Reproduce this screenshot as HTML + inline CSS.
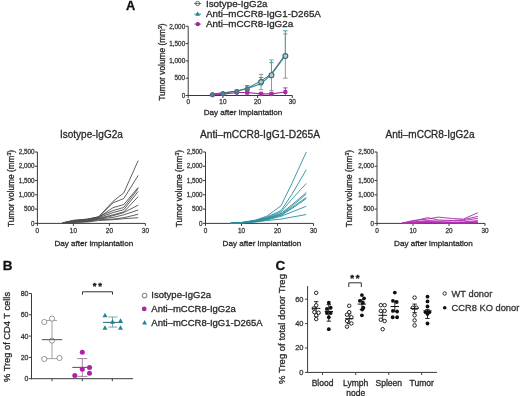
<!DOCTYPE html>
<html><head><meta charset="utf-8"><style>
html,body{margin:0;padding:0;background:#fff;}
svg{display:block;font-family:"Liberation Sans", sans-serif;filter:blur(0.6px);}
text{stroke:currentColor;stroke-width:0.3px;}
</style></head><body>
<svg width="520" height="396" viewBox="0 0 520 396">
<rect width="520" height="396" fill="#fff"/>
<text x="125.90" y="10.00" font-size="12.8" text-anchor="start" fill="#111" color="#111" font-weight="bold">A</text>
<line x1="188.20" y1="26.30" x2="188.20" y2="96.00" stroke="#3a3a3a" stroke-width="1"/>
<line x1="187.70" y1="95.50" x2="292.30" y2="95.50" stroke="#3a3a3a" stroke-width="1"/>
<line x1="185.70" y1="95.50" x2="188.20" y2="95.50" stroke="#3a3a3a" stroke-width="1"/>
<text x="185.20" y="97.70" font-size="6.4" text-anchor="end" fill="#3c3c3c" color="#3c3c3c" font-weight="normal">0</text>
<line x1="185.70" y1="78.20" x2="188.20" y2="78.20" stroke="#3a3a3a" stroke-width="1"/>
<text x="185.20" y="80.40" font-size="6.4" text-anchor="end" fill="#3c3c3c" color="#3c3c3c" font-weight="normal">500</text>
<line x1="185.70" y1="60.90" x2="188.20" y2="60.90" stroke="#3a3a3a" stroke-width="1"/>
<text x="185.20" y="63.10" font-size="6.4" text-anchor="end" fill="#3c3c3c" color="#3c3c3c" font-weight="normal">1,000</text>
<line x1="185.70" y1="43.60" x2="188.20" y2="43.60" stroke="#3a3a3a" stroke-width="1"/>
<text x="185.20" y="45.80" font-size="6.4" text-anchor="end" fill="#3c3c3c" color="#3c3c3c" font-weight="normal">1,500</text>
<line x1="185.70" y1="26.30" x2="188.20" y2="26.30" stroke="#3a3a3a" stroke-width="1"/>
<text x="185.20" y="28.50" font-size="6.4" text-anchor="end" fill="#3c3c3c" color="#3c3c3c" font-weight="normal">2,000</text>
<line x1="188.20" y1="95.50" x2="188.20" y2="98.00" stroke="#3a3a3a" stroke-width="1"/>
<text x="188.20" y="103.60" font-size="6.4" text-anchor="middle" fill="#3c3c3c" color="#3c3c3c" font-weight="normal">0</text>
<line x1="222.90" y1="95.50" x2="222.90" y2="98.00" stroke="#3a3a3a" stroke-width="1"/>
<text x="222.90" y="103.60" font-size="6.4" text-anchor="middle" fill="#3c3c3c" color="#3c3c3c" font-weight="normal">10</text>
<line x1="257.60" y1="95.50" x2="257.60" y2="98.00" stroke="#3a3a3a" stroke-width="1"/>
<text x="257.60" y="103.60" font-size="6.4" text-anchor="middle" fill="#3c3c3c" color="#3c3c3c" font-weight="normal">20</text>
<line x1="292.30" y1="95.50" x2="292.30" y2="98.00" stroke="#3a3a3a" stroke-width="1"/>
<text x="292.30" y="103.60" font-size="6.4" text-anchor="middle" fill="#3c3c3c" color="#3c3c3c" font-weight="normal">30</text>
<text x="243.00" y="114.80" font-size="8.1" text-anchor="middle" fill="#2a2a2a" color="#2a2a2a" font-weight="normal">Day after implantation</text>
<text x="164.80" y="62.00" font-size="8.3" text-anchor="middle" fill="#2a2a2a" color="#2a2a2a" font-weight="normal" transform="rotate(-90 164.8 62.0)">Tumor volume (mm<tspan font-size="5.2" dy="-3">3</tspan><tspan dy="3">)</tspan></text>
<line x1="212.49" y1="94.19" x2="212.49" y2="94.53" stroke="#2592a0" stroke-width="0.9"/>
<line x1="210.29" y1="94.19" x2="214.69" y2="94.19" stroke="#2592a0" stroke-width="0.9"/>
<line x1="222.90" y1="92.56" x2="222.90" y2="93.25" stroke="#2592a0" stroke-width="0.9"/>
<line x1="220.70" y1="92.56" x2="225.10" y2="92.56" stroke="#2592a0" stroke-width="0.9"/>
<line x1="236.78" y1="89.79" x2="236.78" y2="91.17" stroke="#2592a0" stroke-width="0.9"/>
<line x1="234.58" y1="89.79" x2="238.98" y2="89.79" stroke="#2592a0" stroke-width="0.9"/>
<line x1="247.19" y1="85.47" x2="247.19" y2="88.58" stroke="#2592a0" stroke-width="0.9"/>
<line x1="244.99" y1="85.47" x2="249.39" y2="85.47" stroke="#2592a0" stroke-width="0.9"/>
<line x1="261.07" y1="77.51" x2="261.07" y2="83.74" stroke="#2592a0" stroke-width="0.9"/>
<line x1="258.87" y1="77.51" x2="263.27" y2="77.51" stroke="#2592a0" stroke-width="0.9"/>
<line x1="271.48" y1="62.63" x2="271.48" y2="74.39" stroke="#2592a0" stroke-width="0.9"/>
<line x1="269.28" y1="62.63" x2="273.68" y2="62.63" stroke="#2592a0" stroke-width="0.9"/>
<line x1="285.36" y1="30.80" x2="285.36" y2="55.71" stroke="#2592a0" stroke-width="0.9"/>
<line x1="283.16" y1="30.80" x2="287.56" y2="30.80" stroke="#2592a0" stroke-width="0.9"/>
<line x1="212.49" y1="94.46" x2="212.49" y2="95.15" stroke="#8a8a8a" stroke-width="0.9"/>
<line x1="210.29" y1="94.46" x2="214.69" y2="94.46" stroke="#8a8a8a" stroke-width="0.9"/>
<line x1="210.29" y1="95.15" x2="214.69" y2="95.15" stroke="#8a8a8a" stroke-width="0.9"/>
<line x1="222.90" y1="92.91" x2="222.90" y2="94.29" stroke="#8a8a8a" stroke-width="0.9"/>
<line x1="220.70" y1="92.91" x2="225.10" y2="92.91" stroke="#8a8a8a" stroke-width="0.9"/>
<line x1="220.70" y1="94.29" x2="225.10" y2="94.29" stroke="#8a8a8a" stroke-width="0.9"/>
<line x1="236.78" y1="90.83" x2="236.78" y2="92.91" stroke="#8a8a8a" stroke-width="0.9"/>
<line x1="234.58" y1="90.83" x2="238.98" y2="90.83" stroke="#8a8a8a" stroke-width="0.9"/>
<line x1="234.58" y1="92.91" x2="238.98" y2="92.91" stroke="#8a8a8a" stroke-width="0.9"/>
<line x1="247.19" y1="86.16" x2="247.19" y2="92.39" stroke="#8a8a8a" stroke-width="0.9"/>
<line x1="244.99" y1="86.16" x2="249.39" y2="86.16" stroke="#8a8a8a" stroke-width="0.9"/>
<line x1="244.99" y1="92.39" x2="249.39" y2="92.39" stroke="#8a8a8a" stroke-width="0.9"/>
<line x1="261.07" y1="74.39" x2="261.07" y2="89.62" stroke="#8a8a8a" stroke-width="0.9"/>
<line x1="258.87" y1="74.39" x2="263.27" y2="74.39" stroke="#8a8a8a" stroke-width="0.9"/>
<line x1="258.87" y1="89.62" x2="263.27" y2="89.62" stroke="#8a8a8a" stroke-width="0.9"/>
<line x1="271.48" y1="59.97" x2="271.48" y2="90.41" stroke="#8a8a8a" stroke-width="0.9"/>
<line x1="269.28" y1="59.97" x2="273.68" y2="59.97" stroke="#8a8a8a" stroke-width="0.9"/>
<line x1="269.28" y1="90.41" x2="273.68" y2="90.41" stroke="#8a8a8a" stroke-width="0.9"/>
<line x1="285.36" y1="33.91" x2="285.36" y2="78.20" stroke="#8a8a8a" stroke-width="0.9"/>
<line x1="283.16" y1="33.91" x2="287.56" y2="33.91" stroke="#8a8a8a" stroke-width="0.9"/>
<line x1="283.16" y1="78.20" x2="287.56" y2="78.20" stroke="#8a8a8a" stroke-width="0.9"/>
<line x1="212.49" y1="94.53" x2="212.49" y2="95.08" stroke="#a92aa5" stroke-width="0.9"/>
<line x1="210.29" y1="94.53" x2="214.69" y2="94.53" stroke="#a92aa5" stroke-width="0.9"/>
<line x1="210.29" y1="95.08" x2="214.69" y2="95.08" stroke="#a92aa5" stroke-width="0.9"/>
<line x1="222.90" y1="93.60" x2="222.90" y2="94.64" stroke="#a92aa5" stroke-width="0.9"/>
<line x1="220.70" y1="93.60" x2="225.10" y2="93.60" stroke="#a92aa5" stroke-width="0.9"/>
<line x1="220.70" y1="94.64" x2="225.10" y2="94.64" stroke="#a92aa5" stroke-width="0.9"/>
<line x1="236.78" y1="91.52" x2="236.78" y2="93.60" stroke="#a92aa5" stroke-width="0.9"/>
<line x1="234.58" y1="91.52" x2="238.98" y2="91.52" stroke="#a92aa5" stroke-width="0.9"/>
<line x1="234.58" y1="93.60" x2="238.98" y2="93.60" stroke="#a92aa5" stroke-width="0.9"/>
<line x1="247.19" y1="91.17" x2="247.19" y2="93.94" stroke="#a92aa5" stroke-width="0.9"/>
<line x1="244.99" y1="91.17" x2="249.39" y2="91.17" stroke="#a92aa5" stroke-width="0.9"/>
<line x1="244.99" y1="93.94" x2="249.39" y2="93.94" stroke="#a92aa5" stroke-width="0.9"/>
<line x1="261.07" y1="93.04" x2="261.07" y2="94.77" stroke="#a92aa5" stroke-width="0.9"/>
<line x1="258.87" y1="93.04" x2="263.27" y2="93.04" stroke="#a92aa5" stroke-width="0.9"/>
<line x1="258.87" y1="94.77" x2="263.27" y2="94.77" stroke="#a92aa5" stroke-width="0.9"/>
<line x1="271.48" y1="93.04" x2="271.48" y2="94.77" stroke="#a92aa5" stroke-width="0.9"/>
<line x1="269.28" y1="93.04" x2="273.68" y2="93.04" stroke="#a92aa5" stroke-width="0.9"/>
<line x1="269.28" y1="94.77" x2="273.68" y2="94.77" stroke="#a92aa5" stroke-width="0.9"/>
<line x1="285.36" y1="87.89" x2="285.36" y2="95.50" stroke="#a92aa5" stroke-width="0.9"/>
<line x1="283.16" y1="87.89" x2="287.56" y2="87.89" stroke="#a92aa5" stroke-width="0.9"/>
<polyline points="212.49,94.53 222.90,93.25 236.78,91.17 247.19,88.58 261.07,83.74 271.48,74.39 285.36,55.71" fill="none" stroke="#2592a0" stroke-width="1.1" stroke-opacity="1" stroke-linejoin="round"/>
<polyline points="211.79,94.11 222.20,92.90 236.08,91.17 246.49,88.57 260.37,81.31 270.78,74.49 284.66,55.36" fill="none" stroke="#4f6870" stroke-width="1.0" stroke-opacity="1" stroke-linejoin="round"/>
<polyline points="212.49,94.81 222.90,94.12 236.78,92.56 247.19,92.56 261.07,93.91 271.48,93.91 285.36,92.04" fill="none" stroke="#a92aa5" stroke-width="1.1" stroke-opacity="1" stroke-linejoin="round"/>
<circle cx="212.49" cy="94.81" r="2.3" fill="#a92aa5" stroke="none" stroke-width="1"/>
<circle cx="222.90" cy="94.12" r="2.3" fill="#a92aa5" stroke="none" stroke-width="1"/>
<circle cx="236.78" cy="92.56" r="2.3" fill="#a92aa5" stroke="none" stroke-width="1"/>
<circle cx="247.19" cy="92.56" r="2.3" fill="#a92aa5" stroke="none" stroke-width="1"/>
<circle cx="261.07" cy="93.91" r="2.3" fill="#a92aa5" stroke="none" stroke-width="1"/>
<circle cx="271.48" cy="93.91" r="2.3" fill="#a92aa5" stroke="none" stroke-width="1"/>
<circle cx="285.36" cy="92.04" r="2.3" fill="#a92aa5" stroke="none" stroke-width="1"/>
<polygon points="212.49,92.16 214.69,96.12 210.29,96.12" fill="#2592a0"/>
<polygon points="222.90,90.88 225.10,94.84 220.70,94.84" fill="#2592a0"/>
<polygon points="236.78,88.80 238.98,92.76 234.58,92.76" fill="#2592a0"/>
<polygon points="247.19,86.20 249.39,90.16 244.99,90.16" fill="#2592a0"/>
<polygon points="261.07,81.36 263.27,85.32 258.87,85.32" fill="#2592a0"/>
<polygon points="271.48,72.02 273.68,75.98 269.28,75.98" fill="#2592a0"/>
<polygon points="285.36,53.33 287.56,57.29 283.16,57.29" fill="#2592a0"/>
<circle cx="212.49" cy="94.81" r="2.2" fill="#4d8296" stroke="#4a6a78" stroke-width="0.9"/>
<circle cx="222.90" cy="93.60" r="2.2" fill="#4d8296" stroke="#4a6a78" stroke-width="0.9"/>
<circle cx="236.78" cy="91.87" r="2.2" fill="#4d8296" stroke="#4a6a78" stroke-width="0.9"/>
<circle cx="247.19" cy="89.27" r="2.2" fill="#4d8296" stroke="#4a6a78" stroke-width="0.9"/>
<circle cx="261.07" cy="82.01" r="2.4" fill="rgba(255,255,255,0.55)" stroke="#3f6370" stroke-width="1.15"/>
<circle cx="271.48" cy="75.19" r="2.4" fill="rgba(255,255,255,0.55)" stroke="#3f6370" stroke-width="1.15"/>
<circle cx="285.36" cy="56.06" r="2.4" fill="rgba(255,255,255,0.55)" stroke="#3f6370" stroke-width="1.15"/>
<circle cx="197.60" cy="3.50" r="2.1" fill="none" stroke="#666" stroke-width="1.0"/>
<line x1="194.10" y1="3.50" x2="201.10" y2="3.50" stroke="#666" stroke-width="0.9"/>
<polygon points="197.70,11.62 200.00,15.76 195.40,15.76" fill="#1f8088"/>
<line x1="194.20" y1="14.10" x2="201.20" y2="14.10" stroke="#1f8088" stroke-width="0.8"/>
<circle cx="197.80" cy="24.10" r="2.2" fill="#9c2890" stroke="none" stroke-width="1"/>
<line x1="194.30" y1="24.10" x2="201.30" y2="24.10" stroke="#9c2890" stroke-width="0.8"/>
<text x="206.00" y="7.10" font-size="9.8" text-anchor="start" fill="#2a2a2a" color="#2a2a2a" font-weight="normal">Isotype-IgG2a</text>
<text x="206.00" y="17.10" font-size="9.8" text-anchor="start" fill="#2a2a2a" color="#2a2a2a" font-weight="normal">Anti–mCCR8-IgG1-D265A</text>
<text x="206.00" y="27.10" font-size="9.8" text-anchor="start" fill="#2a2a2a" color="#2a2a2a" font-weight="normal">Anti–mCCR8-IgG2a</text>
<text x="91.40" y="137.60" font-size="10.0" text-anchor="middle" fill="#2a2a2a" color="#2a2a2a" font-weight="normal">Isotype-IgG2a</text>
<line x1="37.40" y1="152.00" x2="37.40" y2="223.90" stroke="#3a3a3a" stroke-width="1"/>
<line x1="36.90" y1="223.40" x2="145.40" y2="223.40" stroke="#3a3a3a" stroke-width="1"/>
<line x1="34.90" y1="223.40" x2="37.40" y2="223.40" stroke="#3a3a3a" stroke-width="1"/>
<text x="34.40" y="225.60" font-size="6.3" text-anchor="end" fill="#3c3c3c" color="#3c3c3c" font-weight="normal">0</text>
<line x1="34.90" y1="209.12" x2="37.40" y2="209.12" stroke="#3a3a3a" stroke-width="1"/>
<text x="34.40" y="211.32" font-size="6.3" text-anchor="end" fill="#3c3c3c" color="#3c3c3c" font-weight="normal">500</text>
<line x1="34.90" y1="194.84" x2="37.40" y2="194.84" stroke="#3a3a3a" stroke-width="1"/>
<text x="34.40" y="197.04" font-size="6.3" text-anchor="end" fill="#3c3c3c" color="#3c3c3c" font-weight="normal">1,000</text>
<line x1="34.90" y1="180.56" x2="37.40" y2="180.56" stroke="#3a3a3a" stroke-width="1"/>
<text x="34.40" y="182.76" font-size="6.3" text-anchor="end" fill="#3c3c3c" color="#3c3c3c" font-weight="normal">1,500</text>
<line x1="34.90" y1="166.28" x2="37.40" y2="166.28" stroke="#3a3a3a" stroke-width="1"/>
<text x="34.40" y="168.48" font-size="6.3" text-anchor="end" fill="#3c3c3c" color="#3c3c3c" font-weight="normal">2,000</text>
<line x1="34.90" y1="152.00" x2="37.40" y2="152.00" stroke="#3a3a3a" stroke-width="1"/>
<text x="34.40" y="154.20" font-size="6.3" text-anchor="end" fill="#3c3c3c" color="#3c3c3c" font-weight="normal">2,500</text>
<line x1="37.40" y1="223.40" x2="37.40" y2="225.90" stroke="#3a3a3a" stroke-width="1"/>
<text x="37.40" y="233.00" font-size="6.4" text-anchor="middle" fill="#3c3c3c" color="#3c3c3c" font-weight="normal">0</text>
<line x1="73.40" y1="223.40" x2="73.40" y2="225.90" stroke="#3a3a3a" stroke-width="1"/>
<text x="73.40" y="233.00" font-size="6.4" text-anchor="middle" fill="#3c3c3c" color="#3c3c3c" font-weight="normal">10</text>
<line x1="109.40" y1="223.40" x2="109.40" y2="225.90" stroke="#3a3a3a" stroke-width="1"/>
<text x="109.40" y="233.00" font-size="6.4" text-anchor="middle" fill="#3c3c3c" color="#3c3c3c" font-weight="normal">20</text>
<line x1="145.40" y1="223.40" x2="145.40" y2="225.90" stroke="#3a3a3a" stroke-width="1"/>
<text x="145.40" y="233.00" font-size="6.4" text-anchor="middle" fill="#3c3c3c" color="#3c3c3c" font-weight="normal">30</text>
<text x="93.80" y="245.60" font-size="8.1" text-anchor="middle" fill="#2a2a2a" color="#2a2a2a" font-weight="normal">Day after implantation</text>
<text x="14.20" y="188.50" font-size="8.3" text-anchor="middle" fill="#2a2a2a" color="#2a2a2a" font-weight="normal" transform="rotate(-90 14.2 188.5)">Tumor volume (mm<tspan font-size="5.2" dy="-3">3</tspan><tspan dy="3">)</tspan></text>
<polyline points="62.60,222.83 73.40,220.54 87.80,219.12 98.60,216.83 113.00,201.41 123.80,192.84 138.20,160.57" fill="none" stroke="#4e4e4e" stroke-width="0.9" stroke-opacity="1" stroke-linejoin="round"/>
<polyline points="62.60,222.83 73.40,220.83 87.80,219.40 98.60,217.12 113.00,202.84 123.80,198.55 138.20,175.42" fill="none" stroke="#4e4e4e" stroke-width="0.9" stroke-opacity="1" stroke-linejoin="round"/>
<polyline points="62.60,222.97 73.40,221.12 87.80,219.69 98.60,217.40 113.00,207.69 123.80,204.55 138.20,187.41" fill="none" stroke="#4e4e4e" stroke-width="0.9" stroke-opacity="1" stroke-linejoin="round"/>
<polyline points="62.60,222.97 73.40,220.26 87.80,219.12 98.60,216.83 113.00,210.55 123.80,207.41 138.20,188.56" fill="none" stroke="#4e4e4e" stroke-width="0.9" stroke-opacity="1" stroke-linejoin="round"/>
<polyline points="62.60,223.11 73.40,221.40 87.80,219.97 98.60,217.69 113.00,212.55 123.80,209.69 138.20,191.41" fill="none" stroke="#4e4e4e" stroke-width="0.9" stroke-opacity="1" stroke-linejoin="round"/>
<polyline points="62.60,223.11 73.40,221.69 87.80,220.54 98.60,218.26 113.00,214.83 123.80,211.98 138.20,196.55" fill="none" stroke="#4e4e4e" stroke-width="0.9" stroke-opacity="1" stroke-linejoin="round"/>
<polyline points="62.60,223.26 73.40,221.97 87.80,220.83 98.60,218.83 113.00,215.69 123.80,212.55 138.20,205.12" fill="none" stroke="#4e4e4e" stroke-width="0.9" stroke-opacity="1" stroke-linejoin="round"/>
<polyline points="62.60,223.26 73.40,222.26 87.80,221.40 98.60,219.69 113.00,219.12 123.80,217.69 138.20,214.26" fill="none" stroke="#4e4e4e" stroke-width="0.9" stroke-opacity="1" stroke-linejoin="round"/>
<polyline points="62.60,223.40 73.40,222.54 87.80,221.97 98.60,220.54 113.00,219.69 123.80,218.69 138.20,217.69" fill="none" stroke="#4e4e4e" stroke-width="0.9" stroke-opacity="1" stroke-linejoin="round"/>
<polyline points="62.60,223.26 73.40,222.11 87.80,221.12 98.60,219.12 113.00,217.40 123.80,214.83 138.20,209.98" fill="none" stroke="#4e4e4e" stroke-width="0.9" stroke-opacity="1" stroke-linejoin="round"/>
<text x="260.00" y="137.60" font-size="10.25" text-anchor="middle" fill="#2a2a2a" color="#2a2a2a" font-weight="normal">Anti–mCCR8-IgG1-D265A</text>
<line x1="205.50" y1="152.00" x2="205.50" y2="223.90" stroke="#3a3a3a" stroke-width="1"/>
<line x1="205.00" y1="223.40" x2="313.50" y2="223.40" stroke="#3a3a3a" stroke-width="1"/>
<line x1="203.00" y1="223.40" x2="205.50" y2="223.40" stroke="#3a3a3a" stroke-width="1"/>
<text x="202.50" y="225.60" font-size="6.3" text-anchor="end" fill="#3c3c3c" color="#3c3c3c" font-weight="normal">0</text>
<line x1="203.00" y1="209.12" x2="205.50" y2="209.12" stroke="#3a3a3a" stroke-width="1"/>
<text x="202.50" y="211.32" font-size="6.3" text-anchor="end" fill="#3c3c3c" color="#3c3c3c" font-weight="normal">500</text>
<line x1="203.00" y1="194.84" x2="205.50" y2="194.84" stroke="#3a3a3a" stroke-width="1"/>
<text x="202.50" y="197.04" font-size="6.3" text-anchor="end" fill="#3c3c3c" color="#3c3c3c" font-weight="normal">1,000</text>
<line x1="203.00" y1="180.56" x2="205.50" y2="180.56" stroke="#3a3a3a" stroke-width="1"/>
<text x="202.50" y="182.76" font-size="6.3" text-anchor="end" fill="#3c3c3c" color="#3c3c3c" font-weight="normal">1,500</text>
<line x1="203.00" y1="166.28" x2="205.50" y2="166.28" stroke="#3a3a3a" stroke-width="1"/>
<text x="202.50" y="168.48" font-size="6.3" text-anchor="end" fill="#3c3c3c" color="#3c3c3c" font-weight="normal">2,000</text>
<line x1="203.00" y1="152.00" x2="205.50" y2="152.00" stroke="#3a3a3a" stroke-width="1"/>
<text x="202.50" y="154.20" font-size="6.3" text-anchor="end" fill="#3c3c3c" color="#3c3c3c" font-weight="normal">2,500</text>
<line x1="205.50" y1="223.40" x2="205.50" y2="225.90" stroke="#3a3a3a" stroke-width="1"/>
<text x="205.50" y="233.00" font-size="6.4" text-anchor="middle" fill="#3c3c3c" color="#3c3c3c" font-weight="normal">0</text>
<line x1="241.50" y1="223.40" x2="241.50" y2="225.90" stroke="#3a3a3a" stroke-width="1"/>
<text x="241.50" y="233.00" font-size="6.4" text-anchor="middle" fill="#3c3c3c" color="#3c3c3c" font-weight="normal">10</text>
<line x1="277.50" y1="223.40" x2="277.50" y2="225.90" stroke="#3a3a3a" stroke-width="1"/>
<text x="277.50" y="233.00" font-size="6.4" text-anchor="middle" fill="#3c3c3c" color="#3c3c3c" font-weight="normal">20</text>
<line x1="313.50" y1="223.40" x2="313.50" y2="225.90" stroke="#3a3a3a" stroke-width="1"/>
<text x="313.50" y="233.00" font-size="6.4" text-anchor="middle" fill="#3c3c3c" color="#3c3c3c" font-weight="normal">30</text>
<text x="261.90" y="245.60" font-size="8.1" text-anchor="middle" fill="#2a2a2a" color="#2a2a2a" font-weight="normal">Day after implantation</text>
<text x="182.30" y="188.50" font-size="8.3" text-anchor="middle" fill="#2a2a2a" color="#2a2a2a" font-weight="normal" transform="rotate(-90 182.3 188.5)">Tumor volume (mm<tspan font-size="5.2" dy="-3">3</tspan><tspan dy="3">)</tspan></text>
<polyline points="230.70,223.26 241.50,222.54 255.90,219.97 266.70,216.26 281.10,205.69 291.90,183.42 306.30,152.00" fill="none" stroke="#2a8f9c" stroke-width="0.9" stroke-opacity="1" stroke-linejoin="round"/>
<polyline points="230.70,223.26 241.50,222.54 255.90,220.54 266.70,217.12 281.10,210.55 291.90,194.27 306.30,169.71" fill="none" stroke="#2a8f9c" stroke-width="0.9" stroke-opacity="1" stroke-linejoin="round"/>
<polyline points="230.70,223.26 241.50,222.54 255.90,220.54 266.70,217.69 281.10,211.98 291.90,199.12 306.30,183.42" fill="none" stroke="#2a8f9c" stroke-width="0.9" stroke-opacity="1" stroke-linejoin="round"/>
<polyline points="230.70,223.26 241.50,222.69 255.90,220.83 266.70,218.26 281.10,213.40 291.90,204.84 306.30,192.41" fill="none" stroke="#2a8f9c" stroke-width="0.9" stroke-opacity="1" stroke-linejoin="round"/>
<polyline points="230.70,223.26 241.50,222.69 255.90,221.12 266.70,218.54 281.10,213.98 291.90,206.26 306.30,193.98" fill="none" stroke="#2a8f9c" stroke-width="0.9" stroke-opacity="1" stroke-linejoin="round"/>
<polyline points="230.70,223.26 241.50,222.83 255.90,221.40 266.70,219.12 281.10,214.83 291.90,207.69 306.30,197.41" fill="none" stroke="#2a8f9c" stroke-width="0.9" stroke-opacity="1" stroke-linejoin="round"/>
<polyline points="230.70,223.26 241.50,222.83 255.90,221.40 266.70,219.40 281.10,215.40 291.90,208.55 306.30,198.55" fill="none" stroke="#2a8f9c" stroke-width="0.9" stroke-opacity="1" stroke-linejoin="round"/>
<polyline points="230.70,223.26 241.50,222.83 255.90,221.69 266.70,219.97 281.10,216.26 291.90,211.98 306.30,206.26" fill="none" stroke="#2a8f9c" stroke-width="0.9" stroke-opacity="1" stroke-linejoin="round"/>
<polyline points="230.70,223.26 241.50,222.97 255.90,221.97 266.70,220.54 281.10,219.12 291.90,217.12 306.30,214.55" fill="none" stroke="#2a8f9c" stroke-width="0.9" stroke-opacity="1" stroke-linejoin="round"/>
<text x="430.00" y="137.60" font-size="10.0" text-anchor="middle" fill="#2a2a2a" color="#2a2a2a" font-weight="normal">Anti–mCCR8-IgG2a</text>
<line x1="377.00" y1="152.00" x2="377.00" y2="223.90" stroke="#3a3a3a" stroke-width="1"/>
<line x1="376.50" y1="223.40" x2="485.00" y2="223.40" stroke="#3a3a3a" stroke-width="1"/>
<line x1="374.50" y1="223.40" x2="377.00" y2="223.40" stroke="#3a3a3a" stroke-width="1"/>
<text x="374.00" y="225.60" font-size="6.3" text-anchor="end" fill="#3c3c3c" color="#3c3c3c" font-weight="normal">0</text>
<line x1="374.50" y1="209.12" x2="377.00" y2="209.12" stroke="#3a3a3a" stroke-width="1"/>
<text x="374.00" y="211.32" font-size="6.3" text-anchor="end" fill="#3c3c3c" color="#3c3c3c" font-weight="normal">500</text>
<line x1="374.50" y1="194.84" x2="377.00" y2="194.84" stroke="#3a3a3a" stroke-width="1"/>
<text x="374.00" y="197.04" font-size="6.3" text-anchor="end" fill="#3c3c3c" color="#3c3c3c" font-weight="normal">1,000</text>
<line x1="374.50" y1="180.56" x2="377.00" y2="180.56" stroke="#3a3a3a" stroke-width="1"/>
<text x="374.00" y="182.76" font-size="6.3" text-anchor="end" fill="#3c3c3c" color="#3c3c3c" font-weight="normal">1,500</text>
<line x1="374.50" y1="166.28" x2="377.00" y2="166.28" stroke="#3a3a3a" stroke-width="1"/>
<text x="374.00" y="168.48" font-size="6.3" text-anchor="end" fill="#3c3c3c" color="#3c3c3c" font-weight="normal">2,000</text>
<line x1="374.50" y1="152.00" x2="377.00" y2="152.00" stroke="#3a3a3a" stroke-width="1"/>
<text x="374.00" y="154.20" font-size="6.3" text-anchor="end" fill="#3c3c3c" color="#3c3c3c" font-weight="normal">2,500</text>
<line x1="377.00" y1="223.40" x2="377.00" y2="225.90" stroke="#3a3a3a" stroke-width="1"/>
<text x="377.00" y="233.00" font-size="6.4" text-anchor="middle" fill="#3c3c3c" color="#3c3c3c" font-weight="normal">0</text>
<line x1="413.00" y1="223.40" x2="413.00" y2="225.90" stroke="#3a3a3a" stroke-width="1"/>
<text x="413.00" y="233.00" font-size="6.4" text-anchor="middle" fill="#3c3c3c" color="#3c3c3c" font-weight="normal">10</text>
<line x1="449.00" y1="223.40" x2="449.00" y2="225.90" stroke="#3a3a3a" stroke-width="1"/>
<text x="449.00" y="233.00" font-size="6.4" text-anchor="middle" fill="#3c3c3c" color="#3c3c3c" font-weight="normal">20</text>
<line x1="485.00" y1="223.40" x2="485.00" y2="225.90" stroke="#3a3a3a" stroke-width="1"/>
<text x="485.00" y="233.00" font-size="6.4" text-anchor="middle" fill="#3c3c3c" color="#3c3c3c" font-weight="normal">30</text>
<text x="433.40" y="245.60" font-size="8.1" text-anchor="middle" fill="#2a2a2a" color="#2a2a2a" font-weight="normal">Day after implantation</text>
<text x="352.40" y="188.50" font-size="8.3" text-anchor="middle" fill="#2a2a2a" color="#2a2a2a" font-weight="normal" transform="rotate(-90 352.4 188.5)">Tumor volume (mm<tspan font-size="5.2" dy="-3">3</tspan><tspan dy="3">)</tspan></text>
<polyline points="402.20,223.11 413.00,220.54 427.40,219.12 438.20,217.12 452.60,218.54 463.40,219.12 477.80,212.69" fill="none" stroke="#b030b0" stroke-width="0.95" stroke-opacity="1" stroke-linejoin="round"/>
<polyline points="402.20,223.11 413.00,221.12 427.40,217.69 438.20,219.97 452.60,220.54 463.40,219.69 477.80,216.40" fill="none" stroke="#b030b0" stroke-width="0.95" stroke-opacity="1" stroke-linejoin="round"/>
<polyline points="402.20,223.11 413.00,221.97 427.40,220.54 438.20,221.12 452.60,220.83 463.40,220.54 477.80,218.40" fill="none" stroke="#b030b0" stroke-width="0.95" stroke-opacity="1" stroke-linejoin="round"/>
<polyline points="402.20,223.26 413.00,222.54 427.40,221.69 438.20,221.97 452.60,222.26 463.40,221.97 477.80,220.54" fill="none" stroke="#b030b0" stroke-width="0.95" stroke-opacity="1" stroke-linejoin="round"/>
<polyline points="402.20,223.26 413.00,222.83 427.40,222.26 438.20,222.54 452.60,222.83 463.40,222.83 477.80,221.97" fill="none" stroke="#b030b0" stroke-width="0.95" stroke-opacity="1" stroke-linejoin="round"/>
<polyline points="402.20,223.40 413.00,223.11 427.40,222.83 438.20,222.83 452.60,223.11 463.40,223.11 477.80,222.83" fill="none" stroke="#b030b0" stroke-width="0.95" stroke-opacity="1" stroke-linejoin="round"/>
<polyline points="402.20,223.26 413.00,222.26 427.40,221.69 438.20,222.26 452.60,222.54 463.40,222.26 477.80,221.69" fill="none" stroke="#b030b0" stroke-width="0.95" stroke-opacity="1" stroke-linejoin="round"/>
<polyline points="402.20,223.40 413.00,222.97 427.40,222.54 438.20,222.69 452.60,222.83 463.40,222.69 477.80,222.40" fill="none" stroke="#b030b0" stroke-width="0.95" stroke-opacity="1" stroke-linejoin="round"/>
<text x="2.80" y="270.30" font-size="13.5" text-anchor="start" fill="#111" color="#111" font-weight="bold">B</text>
<line x1="31.50" y1="293.50" x2="31.50" y2="379.20" stroke="#3a3a3a" stroke-width="1"/>
<line x1="31.00" y1="378.70" x2="133.10" y2="378.70" stroke="#3a3a3a" stroke-width="1"/>
<line x1="29.00" y1="378.70" x2="31.50" y2="378.70" stroke="#3a3a3a" stroke-width="1"/>
<text x="28.50" y="381.20" font-size="7.0" text-anchor="end" fill="#3c3c3c" color="#3c3c3c" font-weight="normal">0</text>
<line x1="29.00" y1="357.40" x2="31.50" y2="357.40" stroke="#3a3a3a" stroke-width="1"/>
<text x="28.50" y="359.90" font-size="7.0" text-anchor="end" fill="#3c3c3c" color="#3c3c3c" font-weight="normal">20</text>
<line x1="29.00" y1="336.10" x2="31.50" y2="336.10" stroke="#3a3a3a" stroke-width="1"/>
<text x="28.50" y="338.60" font-size="7.0" text-anchor="end" fill="#3c3c3c" color="#3c3c3c" font-weight="normal">40</text>
<line x1="29.00" y1="314.80" x2="31.50" y2="314.80" stroke="#3a3a3a" stroke-width="1"/>
<text x="28.50" y="317.30" font-size="7.0" text-anchor="end" fill="#3c3c3c" color="#3c3c3c" font-weight="normal">60</text>
<line x1="29.00" y1="293.50" x2="31.50" y2="293.50" stroke="#3a3a3a" stroke-width="1"/>
<text x="28.50" y="296.00" font-size="7.0" text-anchor="end" fill="#3c3c3c" color="#3c3c3c" font-weight="normal">80</text>
<line x1="52.00" y1="378.70" x2="52.00" y2="381.20" stroke="#3a3a3a" stroke-width="1"/>
<line x1="82.30" y1="378.70" x2="82.30" y2="381.20" stroke="#3a3a3a" stroke-width="1"/>
<line x1="112.30" y1="378.70" x2="112.30" y2="381.20" stroke="#3a3a3a" stroke-width="1"/>
<text x="10.30" y="337.00" font-size="9.3" text-anchor="middle" fill="#2a2a2a" color="#2a2a2a" font-weight="normal" transform="rotate(-90 10.3 337.0)">% Treg of CD4 T cells</text>
<line x1="52.00" y1="320.50" x2="52.00" y2="358.60" stroke="#a8a8a8" stroke-width="1.1"/>
<line x1="47.00" y1="320.50" x2="57.00" y2="320.50" stroke="#a8a8a8" stroke-width="1.1"/>
<line x1="47.00" y1="358.60" x2="57.00" y2="358.60" stroke="#a8a8a8" stroke-width="1.1"/>
<circle cx="44.30" cy="322.00" r="2.6" fill="white" stroke="#8a8a8a" stroke-width="0.9"/>
<circle cx="52.00" cy="318.60" r="2.6" fill="white" stroke="#8a8a8a" stroke-width="0.9"/>
<circle cx="52.00" cy="340.60" r="2.6" fill="white" stroke="#8a8a8a" stroke-width="0.9"/>
<circle cx="44.30" cy="359.00" r="2.6" fill="white" stroke="#8a8a8a" stroke-width="0.9"/>
<circle cx="59.50" cy="358.00" r="2.6" fill="white" stroke="#8a8a8a" stroke-width="0.9"/>
<line x1="41.80" y1="339.60" x2="62.30" y2="339.60" stroke="#6a6a6a" stroke-width="1.2"/>
<line x1="82.30" y1="358.60" x2="82.30" y2="376.50" stroke="#9a7a9a" stroke-width="0.9"/>
<line x1="77.20" y1="358.60" x2="87.20" y2="358.60" stroke="#9a7a9a" stroke-width="0.9"/>
<line x1="77.40" y1="376.40" x2="87.40" y2="376.40" stroke="#9a7a9a" stroke-width="0.9"/>
<circle cx="82.30" cy="352.30" r="2.5" fill="#b01fae" stroke="none" stroke-width="1"/>
<circle cx="82.30" cy="369.30" r="2.5" fill="#b01fae" stroke="none" stroke-width="1"/>
<circle cx="89.50" cy="367.50" r="2.5" fill="#b01fae" stroke="none" stroke-width="1"/>
<circle cx="89.50" cy="373.20" r="2.5" fill="#b01fae" stroke="none" stroke-width="1"/>
<circle cx="74.80" cy="375.50" r="2.5" fill="#b01fae" stroke="none" stroke-width="1"/>
<line x1="72.30" y1="367.40" x2="92.20" y2="367.40" stroke="#7a4a7a" stroke-width="1.1"/>
<line x1="112.50" y1="317.00" x2="112.50" y2="327.10" stroke="#6aa0a8" stroke-width="0.9"/>
<line x1="108.30" y1="317.00" x2="117.40" y2="317.00" stroke="#6aa0a8" stroke-width="0.9"/>
<line x1="108.30" y1="327.10" x2="117.20" y2="327.10" stroke="#6aa0a8" stroke-width="0.9"/>
<polygon points="105.00,312.80 107.50,317.30 102.50,317.30" fill="#1b8a92"/>
<polygon points="112.50,319.30 115.00,323.80 110.00,323.80" fill="#1b8a92"/>
<polygon points="120.50,318.30 123.00,322.80 118.00,322.80" fill="#1b8a92"/>
<polygon points="105.00,325.30 107.50,329.80 102.50,329.80" fill="#1b8a92"/>
<polygon points="120.50,325.30 123.00,329.80 118.00,329.80" fill="#1b8a92"/>
<line x1="103.00" y1="322.40" x2="122.40" y2="322.40" stroke="#2f7a80" stroke-width="1.1"/>
<polyline points="82.5,294.6 82.5,291.8 112.5,291.8 112.5,294.6" fill="none" stroke="#333" stroke-width="1"/>
<text x="94.50" y="289.10" font-size="9.6" text-anchor="middle" fill="#111" color="#111" font-weight="bold">*</text>
<text x="100.20" y="289.10" font-size="9.6" text-anchor="middle" fill="#111" color="#111" font-weight="bold">*</text>
<circle cx="144.60" cy="295.50" r="2.3" fill="white" stroke="#888" stroke-width="1.05"/>
<circle cx="144.20" cy="308.90" r="2.4" fill="#a828a4" stroke="none" stroke-width="1"/>
<polygon points="144.60,320.00 147.10,324.50 142.10,324.50" fill="#1f8a92"/>
<text x="151.30" y="298.40" font-size="9.5" text-anchor="start" fill="#2a2a2a" color="#2a2a2a" font-weight="normal">Isotype-IgG2a</text>
<text x="151.30" y="312.30" font-size="9.5" text-anchor="start" fill="#2a2a2a" color="#2a2a2a" font-weight="normal">Anti–mCCR8-IgG2a</text>
<text x="151.30" y="326.20" font-size="9.5" text-anchor="start" fill="#2a2a2a" color="#2a2a2a" font-weight="normal">Anti–mCCR8-IgG1-D265A</text>
<text x="275.40" y="269.80" font-size="13.5" text-anchor="start" fill="#111" color="#111" font-weight="bold">C</text>
<line x1="307.60" y1="286.10" x2="307.60" y2="372.90" stroke="#3a3a3a" stroke-width="1"/>
<line x1="307.10" y1="372.40" x2="437.00" y2="372.40" stroke="#3a3a3a" stroke-width="1"/>
<line x1="305.10" y1="372.40" x2="307.60" y2="372.40" stroke="#3a3a3a" stroke-width="1"/>
<text x="303.50" y="374.70" font-size="7.5" text-anchor="end" fill="#3c3c3c" color="#3c3c3c" font-weight="normal">0</text>
<line x1="305.10" y1="348.00" x2="307.60" y2="348.00" stroke="#3a3a3a" stroke-width="1"/>
<text x="303.50" y="350.30" font-size="7.5" text-anchor="end" fill="#3c3c3c" color="#3c3c3c" font-weight="normal">20</text>
<line x1="305.10" y1="323.60" x2="307.60" y2="323.60" stroke="#3a3a3a" stroke-width="1"/>
<text x="303.50" y="325.90" font-size="7.5" text-anchor="end" fill="#3c3c3c" color="#3c3c3c" font-weight="normal">40</text>
<line x1="305.10" y1="299.20" x2="307.60" y2="299.20" stroke="#3a3a3a" stroke-width="1"/>
<text x="303.50" y="301.50" font-size="7.5" text-anchor="end" fill="#3c3c3c" color="#3c3c3c" font-weight="normal">60</text>
<line x1="322.50" y1="372.40" x2="322.50" y2="374.90" stroke="#3a3a3a" stroke-width="1"/>
<line x1="355.70" y1="372.40" x2="355.70" y2="374.90" stroke="#3a3a3a" stroke-width="1"/>
<line x1="388.80" y1="372.40" x2="388.80" y2="374.90" stroke="#3a3a3a" stroke-width="1"/>
<line x1="421.70" y1="372.40" x2="421.70" y2="374.90" stroke="#3a3a3a" stroke-width="1"/>
<text x="284.50" y="329.00" font-size="9.5" text-anchor="middle" fill="#2a2a2a" color="#2a2a2a" font-weight="normal" transform="rotate(-90 284.5 329.0)">% Treg of total donor Treg</text>
<text x="322.50" y="386.00" font-size="8.5" text-anchor="middle" fill="#2a2a2a" color="#2a2a2a" font-weight="normal">Blood</text>
<text x="355.70" y="386.00" font-size="8.5" text-anchor="middle" fill="#2a2a2a" color="#2a2a2a" font-weight="normal">Lymph</text>
<text x="388.80" y="386.00" font-size="8.5" text-anchor="middle" fill="#2a2a2a" color="#2a2a2a" font-weight="normal">Spleen</text>
<text x="421.70" y="386.00" font-size="8.5" text-anchor="middle" fill="#2a2a2a" color="#2a2a2a" font-weight="normal">Tumor</text>
<text x="355.70" y="395.50" font-size="8.5" text-anchor="middle" fill="#2a2a2a" color="#2a2a2a" font-weight="normal">node</text>
<line x1="316.20" y1="301.64" x2="316.20" y2="316.28" stroke="#111" stroke-width="0.9"/>
<line x1="314.00" y1="301.64" x2="318.40" y2="301.64" stroke="#111" stroke-width="0.9"/>
<line x1="314.00" y1="316.28" x2="318.40" y2="316.28" stroke="#111" stroke-width="0.9"/>
<circle cx="316.20" cy="292.86" r="1.75" fill="white" stroke="#1a1a1a" stroke-width="0.95"/>
<circle cx="313.80" cy="308.35" r="1.75" fill="white" stroke="#1a1a1a" stroke-width="0.95"/>
<circle cx="316.20" cy="305.30" r="1.75" fill="white" stroke="#1a1a1a" stroke-width="0.95"/>
<circle cx="314.40" cy="312.13" r="1.75" fill="white" stroke="#1a1a1a" stroke-width="0.95"/>
<circle cx="318.60" cy="312.74" r="1.75" fill="white" stroke="#1a1a1a" stroke-width="0.95"/>
<circle cx="316.20" cy="315.30" r="1.75" fill="white" stroke="#1a1a1a" stroke-width="0.95"/>
<circle cx="316.20" cy="319.09" r="1.75" fill="white" stroke="#1a1a1a" stroke-width="0.95"/>
<line x1="312.00" y1="308.35" x2="320.40" y2="308.35" stroke="#111" stroke-width="1.0"/>
<line x1="328.80" y1="304.69" x2="328.80" y2="321.16" stroke="#111" stroke-width="0.9"/>
<line x1="326.60" y1="304.69" x2="331.00" y2="304.69" stroke="#111" stroke-width="0.9"/>
<line x1="326.60" y1="321.16" x2="331.00" y2="321.16" stroke="#111" stroke-width="0.9"/>
<circle cx="328.80" cy="302.74" r="1.9" fill="#111" stroke="none" stroke-width="1"/>
<circle cx="326.90" cy="308.96" r="1.9" fill="#111" stroke="none" stroke-width="1"/>
<circle cx="330.70" cy="307.74" r="1.9" fill="#111" stroke="none" stroke-width="1"/>
<circle cx="326.90" cy="312.99" r="1.9" fill="#111" stroke="none" stroke-width="1"/>
<circle cx="330.70" cy="312.99" r="1.9" fill="#111" stroke="none" stroke-width="1"/>
<circle cx="328.80" cy="317.26" r="1.9" fill="#111" stroke="none" stroke-width="1"/>
<circle cx="328.80" cy="329.21" r="1.9" fill="#111" stroke="none" stroke-width="1"/>
<line x1="324.60" y1="311.40" x2="333.00" y2="311.40" stroke="#111" stroke-width="1.0"/>
<line x1="349.20" y1="313.84" x2="349.20" y2="323.60" stroke="#111" stroke-width="0.9"/>
<line x1="347.00" y1="313.84" x2="351.40" y2="313.84" stroke="#111" stroke-width="0.9"/>
<line x1="347.00" y1="323.60" x2="351.40" y2="323.60" stroke="#111" stroke-width="0.9"/>
<circle cx="349.20" cy="305.79" r="1.75" fill="white" stroke="#1a1a1a" stroke-width="0.95"/>
<circle cx="349.20" cy="312.13" r="1.75" fill="white" stroke="#1a1a1a" stroke-width="0.95"/>
<circle cx="347.00" cy="314.69" r="1.75" fill="white" stroke="#1a1a1a" stroke-width="0.95"/>
<circle cx="351.40" cy="317.26" r="1.75" fill="white" stroke="#1a1a1a" stroke-width="0.95"/>
<circle cx="347.00" cy="321.04" r="1.75" fill="white" stroke="#1a1a1a" stroke-width="0.95"/>
<circle cx="351.40" cy="323.48" r="1.75" fill="white" stroke="#1a1a1a" stroke-width="0.95"/>
<circle cx="347.00" cy="326.65" r="1.75" fill="white" stroke="#1a1a1a" stroke-width="0.95"/>
<line x1="345.00" y1="318.72" x2="353.40" y2="318.72" stroke="#111" stroke-width="1.0"/>
<line x1="361.90" y1="299.81" x2="361.90" y2="309.57" stroke="#111" stroke-width="0.9"/>
<line x1="359.70" y1="299.81" x2="364.10" y2="299.81" stroke="#111" stroke-width="0.9"/>
<line x1="359.70" y1="309.57" x2="364.10" y2="309.57" stroke="#111" stroke-width="0.9"/>
<circle cx="361.90" cy="295.05" r="1.9" fill="#111" stroke="none" stroke-width="1"/>
<circle cx="364.10" cy="298.35" r="1.9" fill="#111" stroke="none" stroke-width="1"/>
<circle cx="359.80" cy="300.79" r="1.9" fill="#111" stroke="none" stroke-width="1"/>
<circle cx="362.90" cy="302.74" r="1.9" fill="#111" stroke="none" stroke-width="1"/>
<circle cx="363.40" cy="307.74" r="1.9" fill="#111" stroke="none" stroke-width="1"/>
<circle cx="362.20" cy="309.57" r="1.9" fill="#111" stroke="none" stroke-width="1"/>
<circle cx="361.90" cy="315.30" r="1.9" fill="#111" stroke="none" stroke-width="1"/>
<line x1="357.70" y1="304.08" x2="366.10" y2="304.08" stroke="#111" stroke-width="1.0"/>
<line x1="382.70" y1="310.79" x2="382.70" y2="319.94" stroke="#111" stroke-width="0.9"/>
<line x1="380.50" y1="310.79" x2="384.90" y2="310.79" stroke="#111" stroke-width="0.9"/>
<line x1="380.50" y1="319.94" x2="384.90" y2="319.94" stroke="#111" stroke-width="0.9"/>
<circle cx="380.80" cy="305.18" r="1.75" fill="white" stroke="#1a1a1a" stroke-width="0.95"/>
<circle cx="384.60" cy="305.18" r="1.75" fill="white" stroke="#1a1a1a" stroke-width="0.95"/>
<circle cx="380.80" cy="310.91" r="1.75" fill="white" stroke="#1a1a1a" stroke-width="0.95"/>
<circle cx="384.60" cy="310.91" r="1.75" fill="white" stroke="#1a1a1a" stroke-width="0.95"/>
<circle cx="380.80" cy="319.70" r="1.75" fill="white" stroke="#1a1a1a" stroke-width="0.95"/>
<circle cx="384.60" cy="321.04" r="1.75" fill="white" stroke="#1a1a1a" stroke-width="0.95"/>
<circle cx="382.70" cy="329.21" r="1.75" fill="white" stroke="#1a1a1a" stroke-width="0.95"/>
<line x1="378.50" y1="315.30" x2="386.90" y2="315.30" stroke="#111" stroke-width="1.0"/>
<line x1="394.80" y1="301.03" x2="394.80" y2="311.40" stroke="#111" stroke-width="0.9"/>
<line x1="392.60" y1="301.03" x2="397.00" y2="301.03" stroke="#111" stroke-width="0.9"/>
<line x1="392.60" y1="311.40" x2="397.00" y2="311.40" stroke="#111" stroke-width="0.9"/>
<circle cx="394.80" cy="292.61" r="1.9" fill="#111" stroke="none" stroke-width="1"/>
<circle cx="392.90" cy="300.79" r="1.9" fill="#111" stroke="none" stroke-width="1"/>
<circle cx="396.70" cy="302.01" r="1.9" fill="#111" stroke="none" stroke-width="1"/>
<circle cx="392.90" cy="310.91" r="1.9" fill="#111" stroke="none" stroke-width="1"/>
<circle cx="397.10" cy="311.52" r="1.9" fill="#111" stroke="none" stroke-width="1"/>
<circle cx="392.70" cy="317.26" r="1.9" fill="#111" stroke="none" stroke-width="1"/>
<circle cx="397.10" cy="317.26" r="1.9" fill="#111" stroke="none" stroke-width="1"/>
<line x1="390.60" y1="306.52" x2="399.00" y2="306.52" stroke="#111" stroke-width="1.0"/>
<line x1="414.60" y1="304.08" x2="414.60" y2="312.62" stroke="#111" stroke-width="0.9"/>
<line x1="412.40" y1="304.08" x2="416.80" y2="304.08" stroke="#111" stroke-width="0.9"/>
<line x1="412.40" y1="312.62" x2="416.80" y2="312.62" stroke="#111" stroke-width="0.9"/>
<circle cx="414.60" cy="297.61" r="1.75" fill="white" stroke="#1a1a1a" stroke-width="0.95"/>
<circle cx="412.80" cy="307.74" r="1.75" fill="white" stroke="#1a1a1a" stroke-width="0.95"/>
<circle cx="416.40" cy="307.74" r="1.75" fill="white" stroke="#1a1a1a" stroke-width="0.95"/>
<circle cx="414.60" cy="315.30" r="1.75" fill="white" stroke="#1a1a1a" stroke-width="0.95"/>
<circle cx="414.60" cy="320.43" r="1.75" fill="white" stroke="#1a1a1a" stroke-width="0.95"/>
<circle cx="414.60" cy="325.43" r="1.75" fill="white" stroke="#1a1a1a" stroke-width="0.95"/>
<line x1="410.40" y1="308.35" x2="418.80" y2="308.35" stroke="#111" stroke-width="1.0"/>
<line x1="427.50" y1="309.57" x2="427.50" y2="318.48" stroke="#111" stroke-width="0.9"/>
<line x1="425.30" y1="309.57" x2="429.70" y2="309.57" stroke="#111" stroke-width="0.9"/>
<line x1="425.30" y1="318.48" x2="429.70" y2="318.48" stroke="#111" stroke-width="0.9"/>
<circle cx="427.50" cy="296.64" r="1.9" fill="#111" stroke="none" stroke-width="1"/>
<circle cx="427.50" cy="301.40" r="1.9" fill="#111" stroke="none" stroke-width="1"/>
<circle cx="427.50" cy="306.52" r="1.9" fill="#111" stroke="none" stroke-width="1"/>
<circle cx="425.60" cy="312.13" r="1.9" fill="#111" stroke="none" stroke-width="1"/>
<circle cx="429.40" cy="312.13" r="1.9" fill="#111" stroke="none" stroke-width="1"/>
<circle cx="427.50" cy="313.96" r="1.9" fill="#111" stroke="none" stroke-width="1"/>
<circle cx="427.50" cy="323.48" r="1.9" fill="#111" stroke="none" stroke-width="1"/>
<line x1="423.30" y1="310.91" x2="431.70" y2="310.91" stroke="#111" stroke-width="1.0"/>
<polyline points="348.8,287.1 348.8,282.8 361.3,282.8 361.3,287.1" fill="none" stroke="#333" stroke-width="1"/>
<text x="352.10" y="280.70" font-size="9.8" text-anchor="middle" fill="#111" color="#111" font-weight="bold">*</text>
<text x="357.60" y="280.70" font-size="9.8" text-anchor="middle" fill="#111" color="#111" font-weight="bold">*</text>
<circle cx="444.70" cy="293.50" r="1.7" fill="white" stroke="#111" stroke-width="0.85"/>
<circle cx="444.70" cy="307.70" r="1.8" fill="#111" stroke="none" stroke-width="1"/>
<text x="451.60" y="296.80" font-size="9.3" text-anchor="start" fill="#333" color="#333" font-weight="normal">WT donor</text>
<text x="451.60" y="311.00" font-size="9.3" text-anchor="start" fill="#333" color="#333" font-weight="normal">CCR8 KO donor</text>
</svg>
</body></html>
